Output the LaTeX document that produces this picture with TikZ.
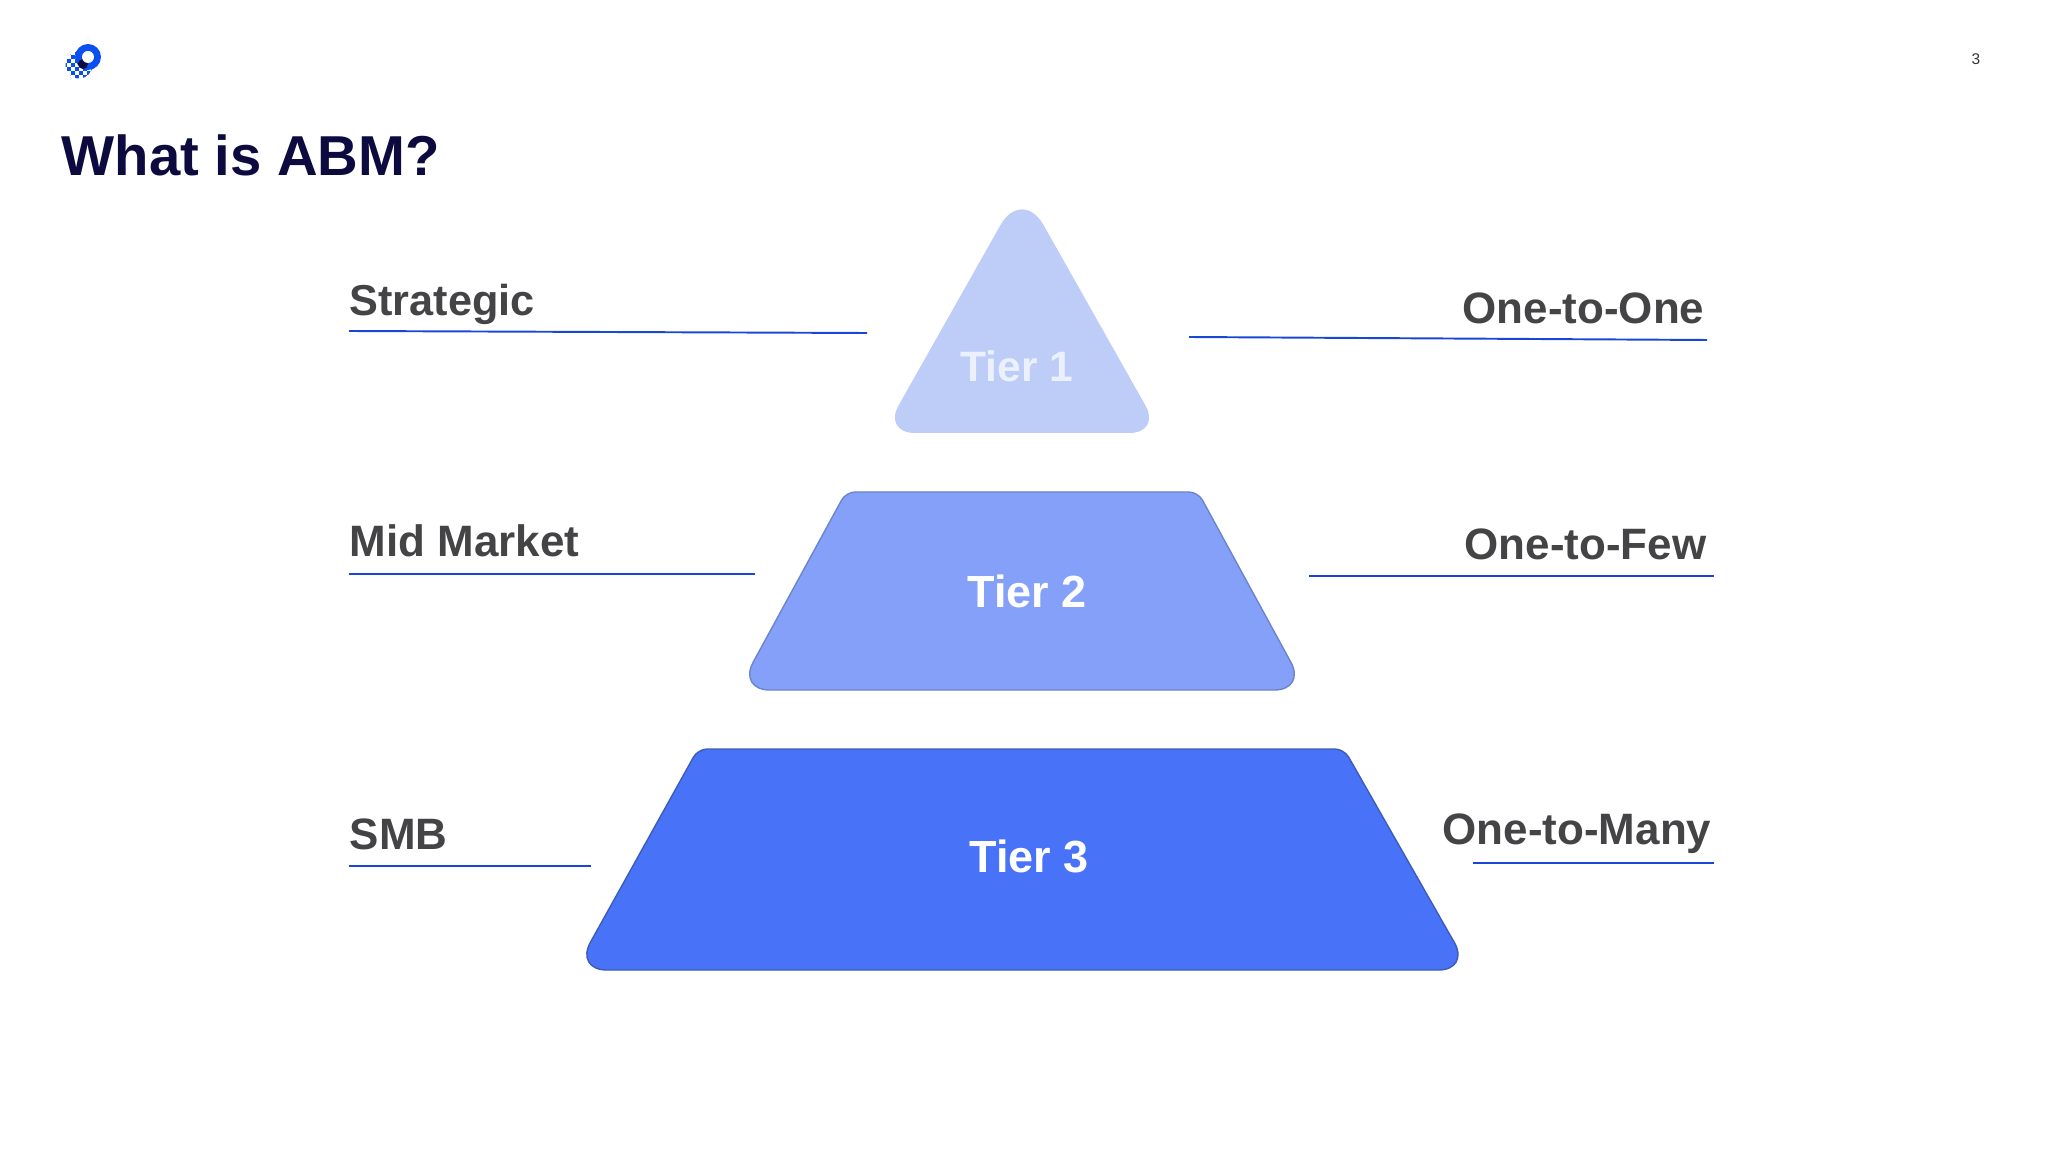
\documentclass[tikz,border=0pt]{standalone}
\usepackage{fontspec}
\setmainfont{Liberation Sans}
\usepackage{xcolor}
\usetikzlibrary{positioning, calc}
\definecolor{tierone}{HTML}{BDCDF8}
\definecolor{tiertwo}{HTML}{84A0F8}
\definecolor{tierthree}{HTML}{4872F8}
\definecolor{tiertwoedge}{HTML}{6C84CC}
\definecolor{tierthreeedge}{HTML}{3C5CB8}
\definecolor{rulecol}{HTML}{1A46D8}
\definecolor{labelcol}{HTML}{444446}
\definecolor{titlecol}{HTML}{0C0A3E}
\definecolor{logocol}{HTML}{0A50F0}

\begin{document}
\begin{tikzpicture}[
        x=0.01cm, y=-0.01cm,
        wide/.style={rounded corners=2.6pt},
        tight/.style={rounded corners=9pt},
        tiertext/.style={font=\fontsize{12.8}{15}\selectfont\bfseries, text=white, inner sep=0pt},
        sidelabel/.style={font=\fontsize{12.5}{15}\selectfont\bfseries, text=labelcol, inner sep=0pt},
        underline/.style={rulecol, line width=0.55pt}
    ]
        \useasboundingbox (0,0) rectangle (2048,1152);

        \fill [tierone] (1022,433) [tight] -- (1161,433) [rounded corners=12.5pt] -- (1022,187) [tight] -- (883,433) [sharp corners] -- cycle;
        \filldraw [fill=tiertwo, draw=tiertwoedge, line width=0.4pt] (1022,492) [wide] -- (1198,492) [tight] -- (1306,690) -- (738,690) [wide] -- (846,492) [sharp corners] -- cycle;
        \filldraw [fill=tierthree, draw=tierthreeedge, line width=0.4pt] (1022,749) [wide] -- (1344,749) [tight] -- (1470,970) -- (575,970) [wide] -- (698,749) [sharp corners] -- cycle;

        \node [tiertext, text=white!70!tierone, font=\fontsize{12.1}{15}\selectfont\bfseries] (tier1) at (1017,366) {Tier 1};
        \node [tiertext] (tier2) at (1027,591) {Tier 2};
        \node [tiertext] (tier3) at (1029,856) {Tier 3};

        \node [sidelabel, anchor=base west, font=\fontsize{12.3}{15}\selectfont\bfseries] (strategic) at (349,316) {Strategic};
        \node [sidelabel, anchor=base west] (mid) at (349,557) {Mid Market};
        \node [sidelabel, anchor=base west] (smb) at (349,849) {SMB};
        \node [sidelabel, anchor=base east] (one) at (1705,324) {One-to-One};
        \node [sidelabel, anchor=base east] (few) at (1707,560) {One-to-Few};
        \node [sidelabel, anchor=base east] (many) at (1712,844) {One-to-Many};

        \coordinate (strategicA) at (349,331);
        \coordinate (strategicB) at (867,333);
        \coordinate (midA) at (349,574);
        \coordinate (midB) at (755,574);
        \coordinate (smbA) at (349,866);
        \coordinate (smbB) at (591,866);
        \coordinate (oneA) at (1189,337);
        \coordinate (oneB) at (1707,340);
        \coordinate (fewA) at (1309,576);
        \coordinate (fewB) at (1714,576);
        \coordinate (manyA) at (1473,863);
        \coordinate (manyB) at (1714,863);

        \draw [underline] (strategicA) -- (strategicB);
        \draw [underline] (midA) -- (midB);
        \draw [underline] (smbA) -- (smbB);
        \draw [underline] (oneA) -- (oneB);
        \draw [underline] (fewA) -- (fewB);
        \draw [underline] (manyA) -- (manyB);

        \node [anchor=base west, inner sep=0pt, text=titlecol, font=\fontsize{16}{19}\selectfont\bfseries] (title) at (61,176) {What is ABM?};
        \node [inner sep=0pt, font=\fontsize{4.4}{6}\selectfont, text=black!80] (pagenum) at (1976,59) {3};

        \begin{scope}
            \clip (79,65) circle (13.5);
            \foreach \py [count=\row] in {51,55,59,63,67,71,75}
                \foreach \px in {63,71,79,87}
                    \fill [logocol] ({\px+mod(\row,2)*4},\py) rectangle ++(4,4);
        \end{scope}
        \fill [logocol] (88,57) circle (13);
        \fill [titlecol] (83,64) circle (5);
        \fill [white] (88,57) circle (6);
    \end{tikzpicture}
\end{document}
